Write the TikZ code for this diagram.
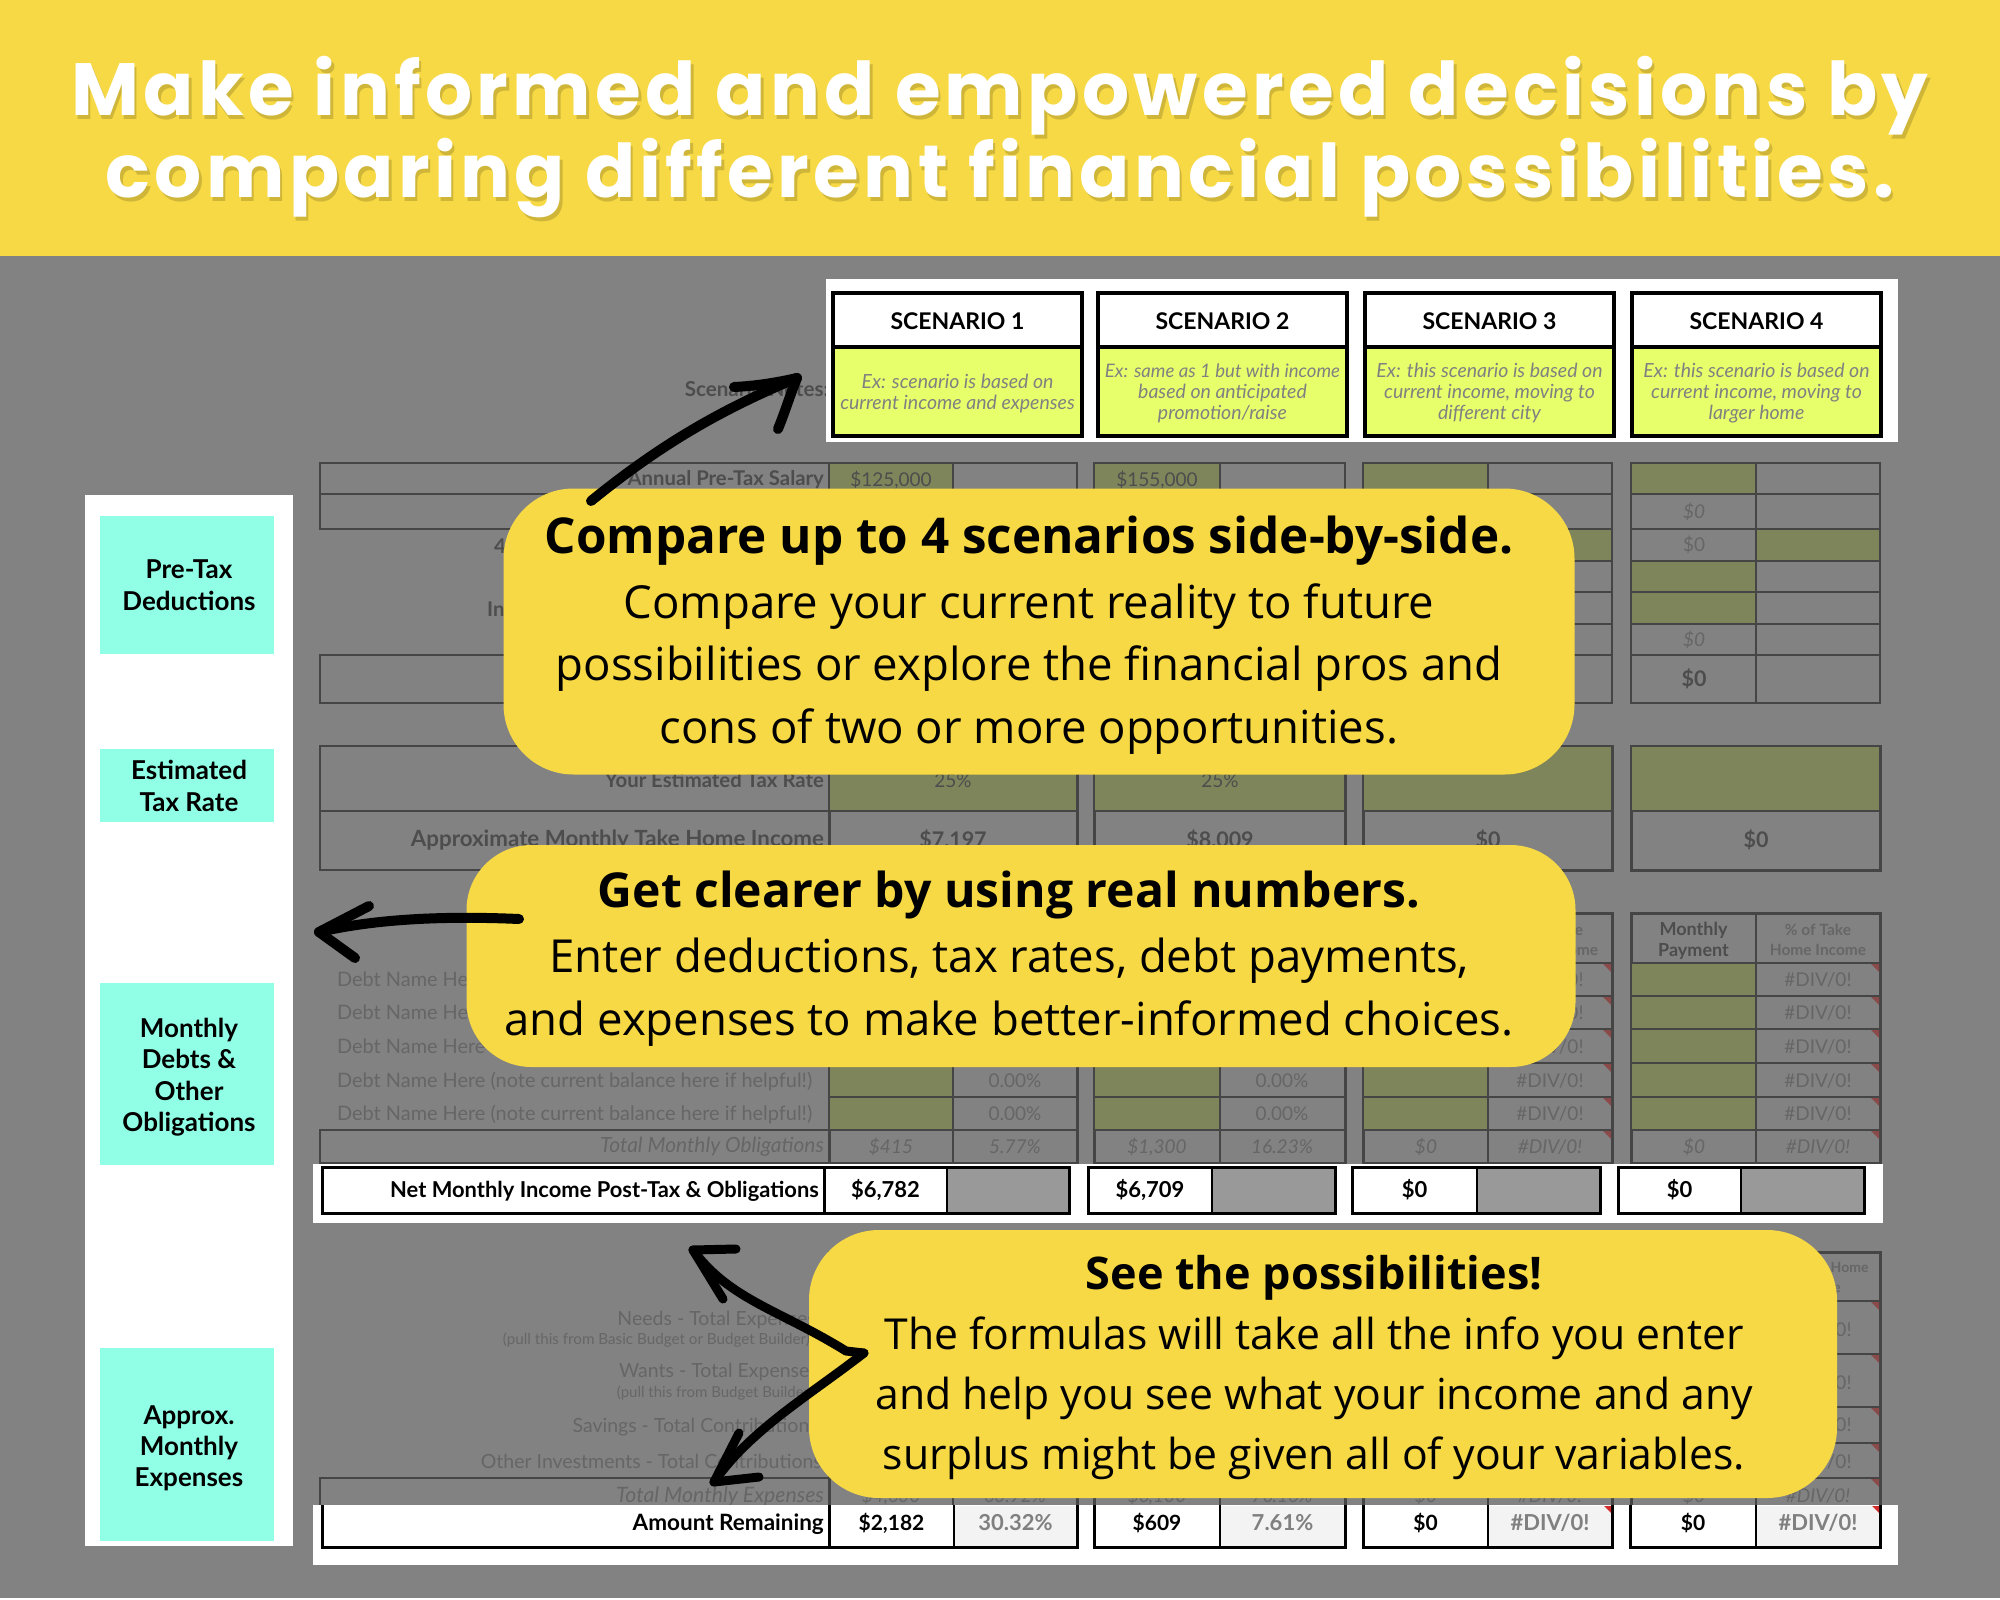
\documentclass[tikz,border=0pt]{standalone}
\usepackage{fontspec}
\setmainfont{Lato}
\newfontfamily\titlefont[LetterSpace=5.9]{Poppins}
\newfontfamily\bubblefont{Open Sans}
\definecolor{headyellow}{HTML}{F7D945}
\definecolor{bggrey}{HTML}{828282}
\definecolor{dimgreen}{HTML}{7F855A}
\definecolor{dimline}{HTML}{454545}
\definecolor{dimtext}{HTML}{4D4D4D}
\definecolor{dimsoft}{HTML}{666666}
\definecolor{limefill}{HTML}{E8FF6C}
\definecolor{tealfill}{HTML}{90FFE6}
\definecolor{midgrey}{HTML}{999999}
\definecolor{palegrey}{HTML}{F3F3F3}
\definecolor{softtext}{HTML}{808080}
\definecolor{dimred}{HTML}{8A4A4A}
\newcommand{\fs}[1]{\fontsize{#1pt}{#1pt}\selectfont}
\newcommand{\fl}[2]{\fontsize{#1pt}{#2pt}\selectfont}
\tikzset{
  x=1pt,y=-1pt,
  cellbox/.style={draw=dimline,line width=2.2pt},
  darkbox/.style={draw=black,line width=3pt},
  hand/.style={draw=black,line width=10pt,line cap=round,line join=round},
  bubble/.style={fill=headyellow,draw=none,rounded corners=#1,inner sep=0pt},
  bubbletext/.style 2 args={inner sep=0pt,align=center,text=black,font=\bubblefont\fl{#1}{#2}},
  tealbox/.style={fill=tealfill,inner sep=0pt,minimum width=174pt},
  tealtext/.style={inner sep=0pt,align=center,font=\fl{26}{#1}\bfseries,text=black},
  lab/.style={anchor=east,inner sep=0pt,font=\fs{20.3}\bfseries,text=dimtext},
  debt/.style={anchor=west,inner sep=0pt,font=\fs{19.9},text=dimsoft},
  val/.style={inner sep=0pt,font=\fs{19},text=dimsoft},
  valb/.style={inner sep=0pt,font=\fs{21.5}\bfseries,text=dimtext},
  vali/.style={inner sep=0pt,font=\fs{19}\itshape,text=dimsoft},
  blk/.style={inner sep=0pt,font=\fs{22}\bfseries,text=black},
  scn/.style={inner sep=0pt,font=\fs{23}\bfseries,text=black},
  exn/.style={inner sep=0pt,align=center,font=\fl{19.5}{21}\itshape,text=softtext},
  titletext/.style={inner sep=0pt,align=center,font=\titlefont\fl{74}{82}\bfseries},
}
\begin{document}
\begin{tikzpicture}
\useasboundingbox (0,0) rectangle (2000,1600);
% backgrounds
\fill[white] (0,0) rectangle (2000,1600);
\fill[bggrey] (0,0) rectangle (2000,1598);
\fill[headyellow] (0,0) rectangle (2000,256);
% title
\node[titletext,text=black,text opacity=.16] at (1002.5,141) {Make informed and empowered decisions by\\comparing different financial possibilities.};
\node (title) [titletext,text=white] at (1000,137) {Make informed and empowered decisions by\\comparing different financial possibilities.};
% scenario notes label
\begin{scope}
\clip (300,360) rectangle (826,420);
\node[lab,font=\fs{20.6}\bfseries] (notes) at (829,389) {Scenario Notes:};
\end{scope}
% white panels
\fill[white] (825.5,279) rectangle (1898,442);
\fill[white] (85,495) rectangle (293,1546);
% scenario headers
\foreach \n/\l/\r/\t in {1/833/1082/{Ex: scenario is based on\\current income and expenses},
  2/1098/1347/{\fl{18.6}{21}Ex: same as 1 but with income\\based on anticipated\\promotion/raise},
  3/1365/1614/{Ex: this scenario is based on\\current income, moving to\\different city},
  4/1632/1881/{Ex: this scenario is based on\\current income, moving to\\larger home}}{
  \fill[limefill] (\l,347) rectangle (\r,436);
  \draw[darkbox,line width=4pt] (\l,293) rectangle (\r,436);
  \draw[darkbox,line width=4pt] (\l,347) -- (\r,347);
  \node[scn] (scn\n) at ({(\l+\r)/2},321) {SCENARIO \n};
  \node[exn] (ex\n) at ({(\l+\r)/2},393) {\t};
}
% teal labels
\node[tealbox,minimum height=138pt] (t1) at (187,585) {};
\node[tealtext=32] (t1t) at (189,585) {Pre-Tax\\Deductions};
\node[tealbox,minimum height=73pt] (t2) at (187,785) {};
\node[tealtext=32] (t2t) at (189,786) {Estimated\\Tax Rate};
\node[tealbox,minimum height=182pt] (t3) at (187,1074) {};
\node[tealtext=31.4] (t3t) at (189,1077) {Monthly\\Debts \&\\Other\\Obligations};
\node[tealbox,minimum height=193pt] (t4) at (187,1444) {};
\node[tealtext=31] (t4t) at (189,1448) {Approx.\\Monthly\\Expenses};
% block grids
\foreach \a/\b/\c in {829/953/1077,1094/1220/1345,1363/1488/1612,1631/1756/1880}{
  \draw[cellbox] (\a,463) rectangle (\c,703);
  \draw[cellbox] (\b,463) -- (\b,703);
  \foreach \yy in {494,529,561,592,624,655} \draw[cellbox] (\a,\yy) -- (\c,\yy);
  \draw[cellbox,line width=3pt] (\a,746) rectangle (\c,870);
  \draw[cellbox] (\a,811) -- (\c,811);
  \draw[cellbox,line width=3pt] (\a,913) rectangle (\c,1163);
  \draw[cellbox] (\b,913) -- (\b,1163);
  \foreach \yy in {963,996,1029,1063,1097,1130} \draw[cellbox] (\a,\yy) -- (\c,\yy);
}
% green fills
\foreach \a/\b/\yt/\yb in {829/953/463/494,1094/1220/463/494,1363/1488/463/494,
  1631/1756/463/494,1488/1612/529/561,1756/1880/529/561,1631/1756/561/592,1631/1756/592/624,
  829/953/1063/1097,829/953/1097/1130,1094/1220/1063/1097,1094/1220/1097/1130,
  1363/1488/1063/1097,1363/1488/1097/1130,
  1631/1756/963/996,1631/1756/996/1029,1631/1756/1029/1063,1631/1756/1063/1097,1631/1756/1097/1130,
  829/1077/746/811,1094/1345/746/811,1363/1612/746/811,1631/1880/746/811}{
  \filldraw[fill=dimgreen,draw=dimline,line width=2.2pt] (\a,\yt) rectangle (\b,\yb);
}
% left label boxes
\draw[cellbox] (320,463) rectangle (829,529);
\draw[cellbox] (320,494) -- (829,494);
\draw[cellbox] (320,655) rectangle (829,703);
\draw[cellbox] (320,746) rectangle (829,870);
\draw[cellbox] (320,811) -- (829,811);
\draw[cellbox] (320,1130) rectangle (829,1163);
\draw[cellbox] (320,1478) rectangle (829,1510);
% block 1 text
\node[lab] (l1) at (824,480) {Annual Pre-Tax Salary};
\node[lab,anchor=west] (l2) at (494,546) {4};
\node[lab,anchor=west] (l3) at (487,609) {In};
\node[val,text=dimtext] (v1) at (891,480) {\$125,000};
\node[val,text=dimtext] (v2) at (1157,480) {\$155,000};
\node[vali] (v3) at (1694,512) {\$0};
\node[val] (v4) at (1694,545) {\$0};
\node[vali] (v5) at (1694,640) {\$0};
\node[valb] (v6) at (1694,679) {\$0};
% block 2 text
\node[lab] (l4) at (824,780) {Your Estimated Tax Rate};
\node[lab,font=\fs{22.3}\bfseries] (l5) at (824,840) {Approximate Monthly Take Home Income};
\node[val,text=dimtext] (r1) at (953,781) {25\%};
\node[val,text=dimtext] (r2) at (1220,781) {25\%};
\node[valb] (r3) at (953,840) {\$7,197};
\node[valb] (r4) at (1220,840) {\$8,009};
\node[valb] (r5) at (1488,840) {\$0};
\node[valb] (r6) at (1756,840) {\$0};
% block 3 headers
\foreach \n/\a/\b in {3/1363/1488,4/1631/1756}{
  \node[inner sep=0pt,align=center,font=\fl{18}{21.5}\bfseries,text=dimtext] (mp\n) at ({(\a+\b)/2},941) {Monthly\\Payment};
  \node[inner sep=0pt,align=center,font=\fl{15.5}{20}\bfseries,text=dimsoft] (pc\n) at ({\b+62},940) {\% of Take\\Home Income};
}
% debt labels
\foreach \k/\yy in {1/980,2/1013,3/1047,4/1081,5/1114}{
  \node[debt] (d\k) at (337,\yy) {Debt Name Here (note current balance here if helpful!)};
}
% block 3 values
\node[val] (p1) at (1015,1081) {0.00\%};
\node[val] (p2) at (1015,1114) {0.00\%};
\node[val] (p3) at (1282,1081) {0.00\%};
\node[val] (p4) at (1282,1114) {0.00\%};
\foreach \yy [count=\k] in {980,1013,1047,1081,1114}{
  \node[val] (dv3\k) at (1550,\yy) {\#DIV/0!};
  \node[val] (dv4\k) at (1818,\yy) {\#DIV/0!};
}
\node[lab,font=\fs{20.9}\itshape,text=dimsoft] (l6) at (824,1147) {Total Monthly Obligations};
\node[vali] (o1) at (891,1147) {\$415};
\node[vali] (o2) at (1015,1147) {5.77\%};
\node[vali] (o3) at (1157,1147) {\$1,300};
\node[vali] (o4) at (1282,1147) {16.23\%};
\node[vali] (o5) at (1426,1147) {\$0};
\node[vali] (o6) at (1550,1147) {\#DIV/0!};
\node[vali] (o7) at (1694,1147) {\$0};
\node[vali] (o8) at (1818,1147) {\#DIV/0!};
% red flags block 3
\foreach \c in {1612,1880}{
  \foreach \yy in {963,996,1029,1063,1097,1130}{
    \fill[dimred] (\c-9,\yy+1) -- (\c-1,\yy+1) -- (\c-1,\yy+9) -- cycle;
  }
}
% net band
\fill[white] (313,1164) rectangle (1883,1223);
\foreach \a/\b/\c/\t in {824/947/1069/{\$6,782},1088/1212/1335/{\$6,709},1352/1477/1600/{\$0},1618/1741/1864/{\$0}}{
  \fill[midgrey] (\b,1167) rectangle (\c,1213);
  \draw[darkbox] (\a,1167) rectangle (\c,1213);
  \draw[darkbox,line width=2pt] (\b,1167) -- (\b,1213);
  \node[blk] at ({(\a+\b)/2},1190) {\t};
}
\draw[darkbox] (322,1167) rectangle (824,1213);
\node[lab,text=black,font=\fs{21.9}\bfseries] (netl) at (819,1191) {Net Monthly Income Post-Tax \& Obligations};
% block 4
\foreach \a/\b/\c in {829/953/1077,1094/1220/1345,1363/1488/1612,1631/1756/1880}{
  \draw[cellbox,line width=3pt] (\a,1252) rectangle (\c,1510);
  \draw[cellbox] (\b,1252) -- (\b,1510);
  \foreach \yy in {1301,1354,1407,1443,1478} \draw[cellbox] (\a,\yy) -- (\c,\yy);
}
\foreach \yy in {1301,1354,1407,1443,1478}{
  \fill[dimred] (1871,\yy+1) -- (1879,\yy+1) -- (1879,\yy+9) -- cycle;
}
\node[inner sep=0pt,align=center,font=\fl{14}{20}\bfseries,text=dimsoft] (ph) at (1818,1277) {\% of Take Home\\Income};
\foreach \yy in {1330,1383,1425,1462}{
  \node[val] at (1818,\yy) {\#DIV/0!};
}
\node[lab,font=\fs{19.5},text=dimsoft] (n1) at (816,1320) {Needs - Total Expenses};
\node[lab,font=\fs{15.2},text=dimsoft] (n2) at (810,1340) {(pull this from Basic Budget or Budget Builder)};
\node[lab,font=\fs{19.5},text=dimsoft] (n3) at (818,1372) {Wants - Total Expenses};
\node[lab,font=\fs{15},text=dimsoft] (n4) at (813,1393) {(pull this from Budget Builder)};
\node[lab,font=\fs{19.5},text=dimsoft] (n5) at (818,1427) {Savings - Total Contributions};
\node[lab,font=\fs{19.5},text=dimsoft] (n6) at (822,1461) {Other Investments - Total Contributions};
\node[lab,font=\fs{21.2}\itshape,text=dimsoft] (n7) at (824,1496) {Total Monthly Expenses};
\node[vali] (e1) at (891,1496) {\$4,600};
\node[vali] (e2) at (1015,1496) {63.92\%};
\node[vali] (e3) at (1157,1496) {\$6,100};
\node[vali] (e4) at (1282,1496) {76.16\%};
\node[vali] (e5) at (1426,1496) {\$0};
\node[vali] (e6) at (1550,1496) {\#DIV/0!};
\node[vali] (e7) at (1694,1496) {\$0};
\node[vali] (e8) at (1818,1496) {\#DIV/0!};
% amount band
\fill[white] (313,1505) rectangle (1898,1565);
\foreach \a/\b/\c/\t/\p in {829/954/1077/{\$2,182}/{30.32\%},1094/1220/1345/{\$609}/{7.61\%},1363/1488/1612/{\$0}/{\#DIV/0!},1630/1756/1880/{\$0}/{\#DIV/0!}}{
  \fill[palegrey] (\b,1506) rectangle (\c,1547);
  \draw[black,line width=3pt] (\a,1505) -- (\a,1547) -- (\c,1547) -- (\c,1505);
  \draw[black,line width=2pt] (\b,1505) -- (\b,1547);
  \node[blk,font=\fs{21}\bfseries] at ({(\a+\b)/2},1523) {\t};
  \node[inner sep=0pt,font=\fs{22}\bfseries,text=softtext] at ({(\b+\c)/2},1523) {\p};
}
\fill[red!65!gray] (1604,1506) -- (1611,1506) -- (1611,1513) -- cycle;
\fill[red!65!gray] (1872,1506) -- (1879,1506) -- (1879,1513) -- cycle;
\draw[black,line width=3pt] (322,1505) -- (322,1547) -- (829,1547);
\node[lab,text=black,font=\fs{22.5}\bfseries] (aml) at (824,1524) {Amount Remaining};
% bubbles
\node[bubble=70pt,minimum width=1071pt,minimum height=286pt] (b1) at (1039,631.5) {};
\node[bubbletext={45.5}{62.5}] (b1t) at (1029,635)
  {{\fontsize{49.4pt}{62.5pt}\selectfont\bfseries Compare up to 4 scenarios side-by-side.}\\[2pt]
   Compare your current reality to future\\possibilities or explore the financial pros and\\cons of two or more opportunities.};
\node[bubble=65pt,minimum width=1109pt,minimum height=222pt] (b2) at (1021,956) {};
\node[bubbletext={45.5}{63}] (b2t) at (1009,958.5)
  {{\fontsize{48.1pt}{63pt}\selectfont\bfseries Get clearer by using real numbers.}\\[2pt]
   Enter deductions, tax rates, debt payments,\\and expenses to make better-informed choices.};
\node[bubble=70pt,minimum width=1028pt,minimum height=268pt] (b3) at (1323,1364) {};
\node[bubbletext={42.7}{60}] (b3t) at (1314,1368)
  {{\fontsize{45pt}{60pt}\selectfont\bfseries See the possibilities!}\\
   The formulas will take all the info you enter\\and help you see what your income and any\\surplus might be given all of your variables.};
% arrows
\coordinate (a1s) at (591,501);
\coordinate (a1t) at (797,378);
\coordinate (a1u) at (734,387);
\coordinate (a1v) at (778,429);
\draw[hand] (a1s) .. controls (660,445) and (720,410) .. (a1t);
\draw[hand] (a1u) .. controls (755,386) and (775,383) .. (a1t) .. controls (790,395) and (785,412) .. (a1v);
\coordinate (a2s) at (519,919);
\coordinate (a2t) at (319,932);
\coordinate (a2u) at (369,906);
\coordinate (a2v) at (355,958);
\draw[hand] (a2s) .. controls (450,916) and (380,918) .. (a2t);
\draw[hand] (a2u) -- (a2t) -- (a2v);
\coordinate (a3s) at (864,1353);
\coordinate (a3k) at (846,1351);
\coordinate (a3t) at (693,1250);
\coordinate (a3u) at (736,1249);
\coordinate (a3v) at (723,1299);
\coordinate (a3w) at (714,1482);
\coordinate (a3x) at (759,1477);
\coordinate (a3y) at (739,1433);
\draw[hand,line width=9pt] (a3s) -- (a3k) .. controls (780,1310) and (730,1300) .. (a3t);
\draw[hand,line width=9pt] (a3u) -- (a3t) -- (a3v);
\draw[hand,line width=9pt] (a3s) .. controls (810,1395) and (750,1430) .. (a3w);
\draw[hand,line width=9pt] (a3x) -- (a3w) -- (a3y);
\end{tikzpicture}
\end{document}
